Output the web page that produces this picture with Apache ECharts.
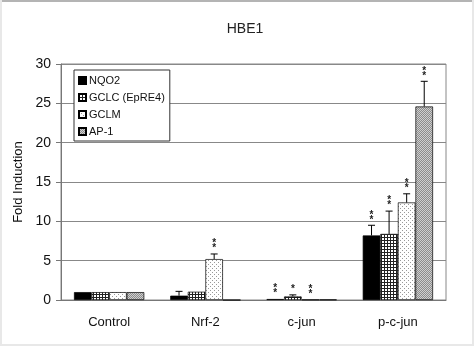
<!DOCTYPE html>
<html>
<head>
<meta charset="utf-8">
<script src="https://cdn.jsdelivr.net/npm/echarts@6/dist/echarts.min.js"></script>
<style>
  html, body { margin: 0; padding: 0; background: #fff; }
  #main { width: 474px; height: 346px; }
</style>
</head>
<body>
<div id="main"></div>
<script>
var categories = ['Control', 'Nrf-2', 'c-jun', 'p-c-jun'];
var seriesNames = ['NQO2', 'GCLC (EpRE4)', 'GCLM', 'AP-1'];
var nqo2 = [1.0, 0.55, 0.12, 8.2];
var gclc = [1.0, 1.05, 0.45, 8.4];
var gclm = [1.0, 5.2, 0.05, 12.4];
var ap1 = [1.0, 0, 0.05, 24.6];
// upper error bar lengths
var nqo2Err = [0, 0.55, 0, 1.3];
var gclcErr = [0, 0, 0.2, 2.9];
var gclmErr = [0, 0.65, 0, 1.1];
var ap1Err = [0, 0, 0, 3.2];
// significance marks
var nqo2Stars = ['', '', '**', '**'];
var gclcStars = ['', '', '*', '**'];
var gclmStars = ['', '**', '**', '**'];
var ap1Stars = ['', '', '', '**'];
var yTicks = [0, 5, 10, 15, 20, 25, 30];

function pattern(size, draw) {
    var c = document.createElement('canvas');
    c.width = size; c.height = size;
    draw(c.getContext('2d'));
    return { image: c, repeat: 'repeat' };
}
var fills = [
    '#000000',
    pattern(3, function (g) {
        g.fillStyle = '#fff'; g.fillRect(0, 0, 3, 3);
        g.fillStyle = '#222'; g.fillRect(0, 0, 3, 1); g.fillRect(0, 0, 1, 3);
    }),
    pattern(4, function (g) {
        g.fillStyle = '#fff'; g.fillRect(0, 0, 4, 4);
        g.fillStyle = '#999'; g.fillRect(0, 0, 1, 1); g.fillRect(2, 2, 1, 1);
    }),
    pattern(2, function (g) {
        g.fillStyle = '#8c8c8c'; g.fillRect(0, 0, 2, 2);
        g.fillStyle = '#cfcfcf'; g.fillRect(0, 0, 1, 1); g.fillRect(1, 1, 1, 1);
    })
];

var values = [nqo2, gclc, gclm, ap1];
var errs = [nqo2Err, gclcErr, gclmErr, ap1Err];
var stars = [nqo2Stars, gclcStars, gclmStars, ap1Stars];
var gapRatio = 0.27;

var series = [];
values.forEach(function (vals, k) {
    series.push({
        name: seriesNames[k],
        type: 'bar',
        data: vals,
        barGap: '0%',
        barCategoryGap: '27%',
        itemStyle: { color: fills[k], borderColor: '#000', borderWidth: 0.7 },
        emphasis: { disabled: true }
    });
});
values.forEach(function (vals, k) {
    series.push({
        name: 'err' + k,
        type: 'custom',
        data: vals.map(function (v, i) { return [i, v, errs[k][i]]; }),
        z: 5,
        renderItem: function (params, api) {
            var i = api.value(0), v = api.value(1), e = api.value(2);
            var base = api.coord([i, v]);
            var catW = api.size([1, 0])[0];
            var barW = catW * (1 - gapRatio) / 4;
            var cx = base[0] - 2 * barW + (k + 0.5) * barW;
            var children = [];
            var topY = base[1];
            if (e > 0) {
                topY = api.coord([i, v + e])[1];
                children.push({ type: 'line', shape: { x1: cx, y1: base[1], x2: cx, y2: topY }, style: { stroke: '#000', lineWidth: 1 } });
                children.push({ type: 'line', shape: { x1: cx - 3.5, y1: topY, x2: cx + 3.5, y2: topY }, style: { stroke: '#000', lineWidth: 1 } });
            }
            var s = stars[k][i];
            if (s) {
                children.push({
                    type: 'text',
                    style: {
                        x: cx, y: topY - 3,
                        text: s.split('').join('\n'),
                        fill: '#222', font: 'bold 10px Liberation Sans',
                        lineHeight: 5, align: 'center', verticalAlign: 'bottom'
                    }
                });
            }
            return { type: 'group', children: children };
        }
    });
});

var chart = echarts.init(document.getElementById('main'));
chart.setOption({
    animation: false,
    backgroundColor: '#fff',
    textStyle: { fontFamily: 'Liberation Sans' },
    title: {
        text: 'HBE1', left: 240, top: 17, textAlign: 'center',
        textStyle: { fontSize: 14, fontWeight: 'normal', color: '#222' }
    },
    legend: {
        data: seriesNames,
        orient: 'vertical',
        left: 74, top: 70,
        padding: [5, 5, 4, 4],
        itemGap: 6,
        itemWidth: 7, itemHeight: 7,
        icon: 'rect',
        borderColor: '#333', borderWidth: 1,
        backgroundColor: '#fff',
        textStyle: { fontSize: 11, color: '#111', padding: [0, 0, 0, -2] },
        selectedMode: false
    },
    grid: {
        left: 61, right: 28, top: 64, bottom: 46,
        show: true, borderColor: '#888', borderWidth: 1
    },
    xAxis: {
        type: 'category', data: categories,
        axisLine: { lineStyle: { color: '#777' } },
        axisTick: { length: 4, lineStyle: { color: '#777' } },
        axisLabel: { fontSize: 13, color: '#111', margin: 16 }
    },
    yAxis: {
        type: 'value', min: yTicks[0], max: yTicks[yTicks.length - 1], interval: 5,
        name: 'Fold Induction', nameLocation: 'middle', nameGap: 36,
        nameTextStyle: { fontSize: 13, color: '#111' },
        axisLine: { show: true, lineStyle: { color: '#777' } },
        axisTick: { show: true, length: 5, lineStyle: { color: '#777' } },
        axisLabel: { fontSize: 14, color: '#111', margin: 10 },
        splitLine: { lineStyle: { color: '#888' } }
    },
    graphic: [
        { type: 'rect', shape: { x: 0, y: 0, width: 474, height: 2 }, style: { fill: '#b4b4b4' }, z: 100 },
        { type: 'rect', shape: { x: 0, y: 0, width: 2, height: 346 }, style: { fill: '#e8e8e8' }, z: 100 },
        { type: 'rect', shape: { x: 472, y: 0, width: 2, height: 346 }, style: { fill: '#e8e8e8' }, z: 100 },
        { type: 'rect', shape: { x: 0, y: 344, width: 474, height: 2 }, style: { fill: '#e8e8e8' }, z: 100 }
    ],
    series: series
});
</script>
</body>
</html>
